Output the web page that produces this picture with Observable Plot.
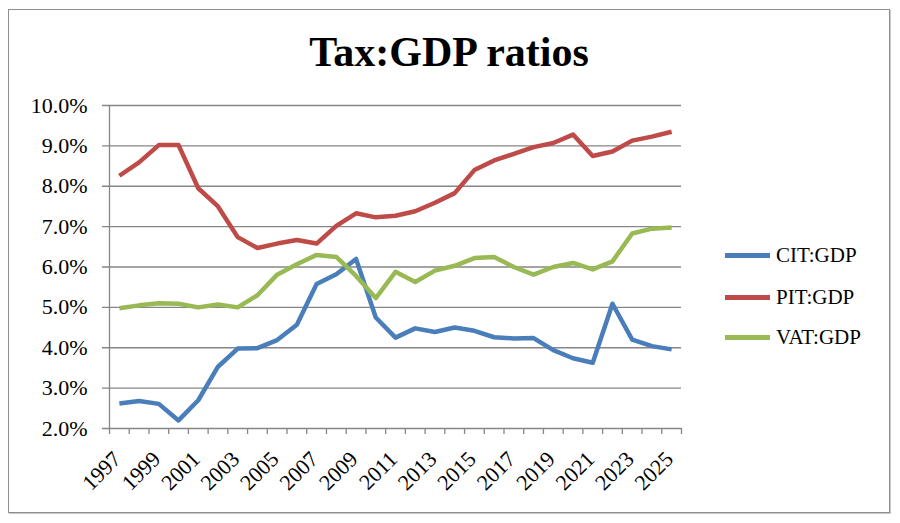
<!DOCTYPE html>
<html>
<head>
<meta charset="utf-8">
<script src="https://cdn.jsdelivr.net/npm/d3@7"></script>
<script src="https://cdn.jsdelivr.net/npm/@observablehq/plot@0.6"></script>
<style>
  html, body { margin: 0; padding: 0; background: #fff; }
  #wrap { position: relative; width: 900px; height: 523px; overflow: hidden; font-family: "Liberation Serif", serif; }
  #border { position: absolute; left: 8px; top: 9px; width: 880px; height: 502px; border: 1.5px solid #8e8e8e; box-shadow: 1px 1px 0 #c8c8c8; }
  #title { position: absolute; left: 0; top: 31px; width: 898px; text-align: center; font-size: 42px; line-height: 42px; font-weight: bold; color: #000; }
  #chart { position: absolute; left: 0; top: 0; }
  #legend { position: absolute; left: 725px; top: 0; }
  .item { position: absolute; left: 0; display: flex; align-items: center; white-space: nowrap; font-size: 21px; color: #000; }
  .swatch { width: 45px; height: 5px; margin-right: 6px; }
</style>
</head>
<body>
<div id="wrap">
  <div id="border"></div>
  <div id="title">Tax:GDP ratios</div>
  <div id="chart"></div>
  <div id="legend"></div>
</div>
<script>
const years = d3.range(1997, 2026);
const seriesNames = ["CIT:GDP", "PIT:GDP", "VAT:GDP"];
const seriesColors = ["#4a7ebb", "#be4b48", "#98b954"];
const cit = [2.62, 2.68, 2.61, 2.20, 2.70, 3.53, 3.98, 3.99, 4.19, 4.57, 5.58, 5.82, 6.20, 4.75, 4.25, 4.48, 4.39, 4.50, 4.42, 4.26, 4.23, 4.24, 3.94, 3.74, 3.63, 5.09, 4.20, 4.04, 3.96];
const pit = [8.26, 8.59, 9.02, 9.02, 7.95, 7.50, 6.74, 6.47, 6.58, 6.67, 6.58, 7.02, 7.33, 7.23, 7.27, 7.38, 7.59, 7.83, 8.40, 8.64, 8.80, 8.97, 9.07, 9.28, 8.75, 8.86, 9.13, 9.23, 9.35];
const vat = [4.98, 5.05, 5.10, 5.09, 5.00, 5.07, 5.00, 5.30, 5.81, 6.07, 6.30, 6.25, 5.78, 5.23, 5.88, 5.63, 5.91, 6.03, 6.22, 6.25, 6.00, 5.81, 6.00, 6.10, 5.94, 6.14, 6.83, 6.95, 6.98];
const yTicks = [2, 3, 4, 5, 6, 7, 8, 9, 10];
const xLabelYears = years.filter((y, i) => i % 2 === 0);

const values = [cit, pit, vat];
const data = [];
seriesNames.forEach((s, k) => years.forEach((yr, i) => data.push({series: s, year: yr, value: values[k][i]})));

// category boundaries (between years)
const edges = years.map(y => y - 0.5).concat([years[years.length - 1] + 0.5]);
const grid = "#868686";
const font = "Liberation Serif";

const chart = Plot.plot({
  width: 900,
  height: 523,
  marginLeft: 109,
  marginRight: 219,
  marginTop: 105,
  marginBottom: 95,
  style: {fontFamily: font, background: "transparent", overflow: "visible"},
  x: {type: "linear", domain: [edges[0], edges[edges.length - 1]]},
  y: {domain: [2, 10]},
  color: {domain: seriesNames, range: seriesColors},
  marks: [
    Plot.ruleY(yTicks, {stroke: grid, strokeWidth: 1.3, strokeOpacity: 1, insetLeft: -7}),
    Plot.ruleX([edges[0]], {stroke: grid, strokeWidth: 1.3}),
    Plot.axisY({ticks: yTicks, tickSize: 0, tickPadding: 22, tickFormat: d => d.toFixed(1) + "%", fontSize: 22, fill: "#000", fontFamily: font, label: null}),
    Plot.axisX({ticks: edges, tickSize: 6, tickFormat: () => "", stroke: grid, strokeWidth: 1.3, strokeOpacity: 1, label: null}),
    Plot.text(xLabelYears, {x: d => d, text: d => String(d), frameAnchor: "bottom", rotate: -45, textAnchor: "end", lineAnchor: "middle", dy: 27, dx: -2, fontSize: 22, fill: "#000", fontFamily: font}),
    Plot.line(data, {x: "year", y: "value", z: "series", stroke: "series", strokeWidth: 4.5, strokeLinejoin: "round", strokeLinecap: "butt"})
  ]
});
document.getElementById("chart").appendChild(chart);

const legend = document.getElementById("legend");
const legendTops = [255, 297, 337];
seriesNames.forEach((s, k) => {
  const item = document.createElement("div");
  item.className = "item";
  item.style.top = (legendTops[k] - 13) + "px";
  item.style.height = "26px";
  const sw = document.createElement("div");
  sw.className = "swatch";
  sw.style.background = seriesColors[k];
  const tx = document.createElement("span");
  tx.textContent = s;
  item.appendChild(sw);
  item.appendChild(tx);
  legend.appendChild(item);
});
</script>
</body>
</html>
